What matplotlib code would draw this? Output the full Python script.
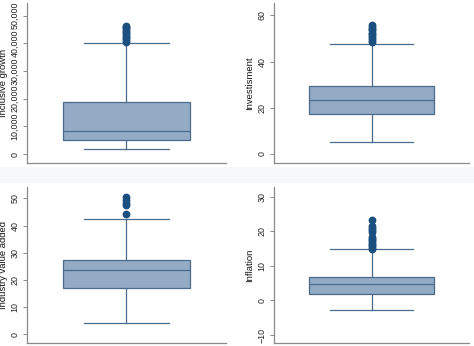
import matplotlib
matplotlib.use("Agg")
import matplotlib.pyplot as plt
from matplotlib.ticker import FuncFormatter
from matplotlib.patches import Rectangle

labels = ["Inclusive growth", "Investisment", "Industry value added", "Inflation"]
q1 = [4900, 17.5, 16.9, 1.8]
med = [8200, 23.2, 23.5, 4.7]
q3 = [18700, 29.3, 27.3, 6.75]
whislo = [1700, 5.3, 4.3, -2.8]
whishi = [40200, 47.5, 42.3, 14.85]
fliers = [
    [40600, 41200, 41800, 42400, 43000, 43600, 44200, 44800, 45400, 45900, 46200],
    [48.5, 49.3, 50.2, 51.0, 51.8, 52.6, 53.5, 54.3, 55.2, 56.0],
    [44.1, 47.6, 48.4, 49.6, 50.5],
    [14.9, 15.4, 15.9, 16.4, 16.9, 17.4, 17.9, 18.4, 19.8, 20.4, 21.0, 21.5, 23.4],
]
yticks = [[0, 10000, 20000, 30000, 40000, 50000], [0, 20, 40, 60],
          [0, 10, 20, 30, 40, 50], [-10, 0, 10, 20, 30]]
ylims = [(-3250, 54600), (-3.9, 65.4), (-3.2, 54.2), (-12.3, 32.8)]

plt.rcParams["font.family"] = ["Liberation Sans", "DejaVu Sans"]

W, H = 474, 346
fig = plt.figure(figsize=(W / 100, H / 100), dpi=100, facecolor="#f5f9fc")
# panel rectangles in pixels: left, top, right, bottom
rects = [(27, 3, 226, 163), (274, 3, 469, 163), (27, 187, 226, 343), (274, 187, 469, 343)]
regions = [(0, 0, 474, 167), (0, 183, 474, 346)]

for (x0, y0, x1, y1) in regions:
    fig.patches.append(Rectangle((x0 / W, 1 - y1 / H), (x1 - x0) / W, (y1 - y0) / H,
                                 transform=fig.transFigure, facecolor="white",
                                 edgecolor="none", zorder=-10))

box_face = "#94abc5"
edge = "#4b6b8c"
axis_col = "#8a8a8a"

for i in range(4):
    l, t, r, b = rects[i]
    ax = fig.add_axes([l / W, 1 - b / H, (r - l) / W, (b - t) / H])
    ax.set_zorder(1)
    ax.set_facecolor("white")
    stats = [dict(med=med[i], q1=q1[i], q3=q3[i], whislo=whislo[i], whishi=whishi[i],
                  fliers=fliers[i])]
    ax.bxp(stats, positions=[0.5], widths=0.64, capwidths=0.43, patch_artist=True,
           boxprops=dict(facecolor=box_face, edgecolor=edge, linewidth=0.9),
           medianprops=dict(color=edge, linewidth=0.9),
           whiskerprops=dict(color=edge, linewidth=0.9),
           capprops=dict(color=edge, linewidth=0.9),
           flierprops=dict(marker="o", markersize=4.6, markerfacecolor="#1b4f80",
                           markeredgecolor="#1b4f80"))
    ax.set_xlim(0, 1)
    ax.set_ylim(*ylims[i])
    ax.set_yticks(yticks[i])
    if i == 0:
        ax.yaxis.set_major_formatter(FuncFormatter(lambda v, p: f"{int(v):,}"))
    ax.set_xticks([])
    for s in ["top", "right"]:
        ax.spines[s].set_visible(False)
    for s in ["left", "bottom"]:
        ax.spines[s].set_color(axis_col)
        ax.spines[s].set_linewidth(0.9)
    ax.tick_params(axis="y", length=3, width=0.7, color=axis_col, labelsize=6.4,
                   pad=2.5, labelrotation=90, labelcolor="#222222")
    for lab in ax.get_yticklabels():
        lab.set_verticalalignment("center")
    ax.set_ylabel(labels[i], fontsize=6.8, color="#111111")
    ax.yaxis.set_label_coords(-19.5 / (r - l), 0.5)

fig.savefig("out.png", dpi=100, facecolor=fig.get_facecolor())
